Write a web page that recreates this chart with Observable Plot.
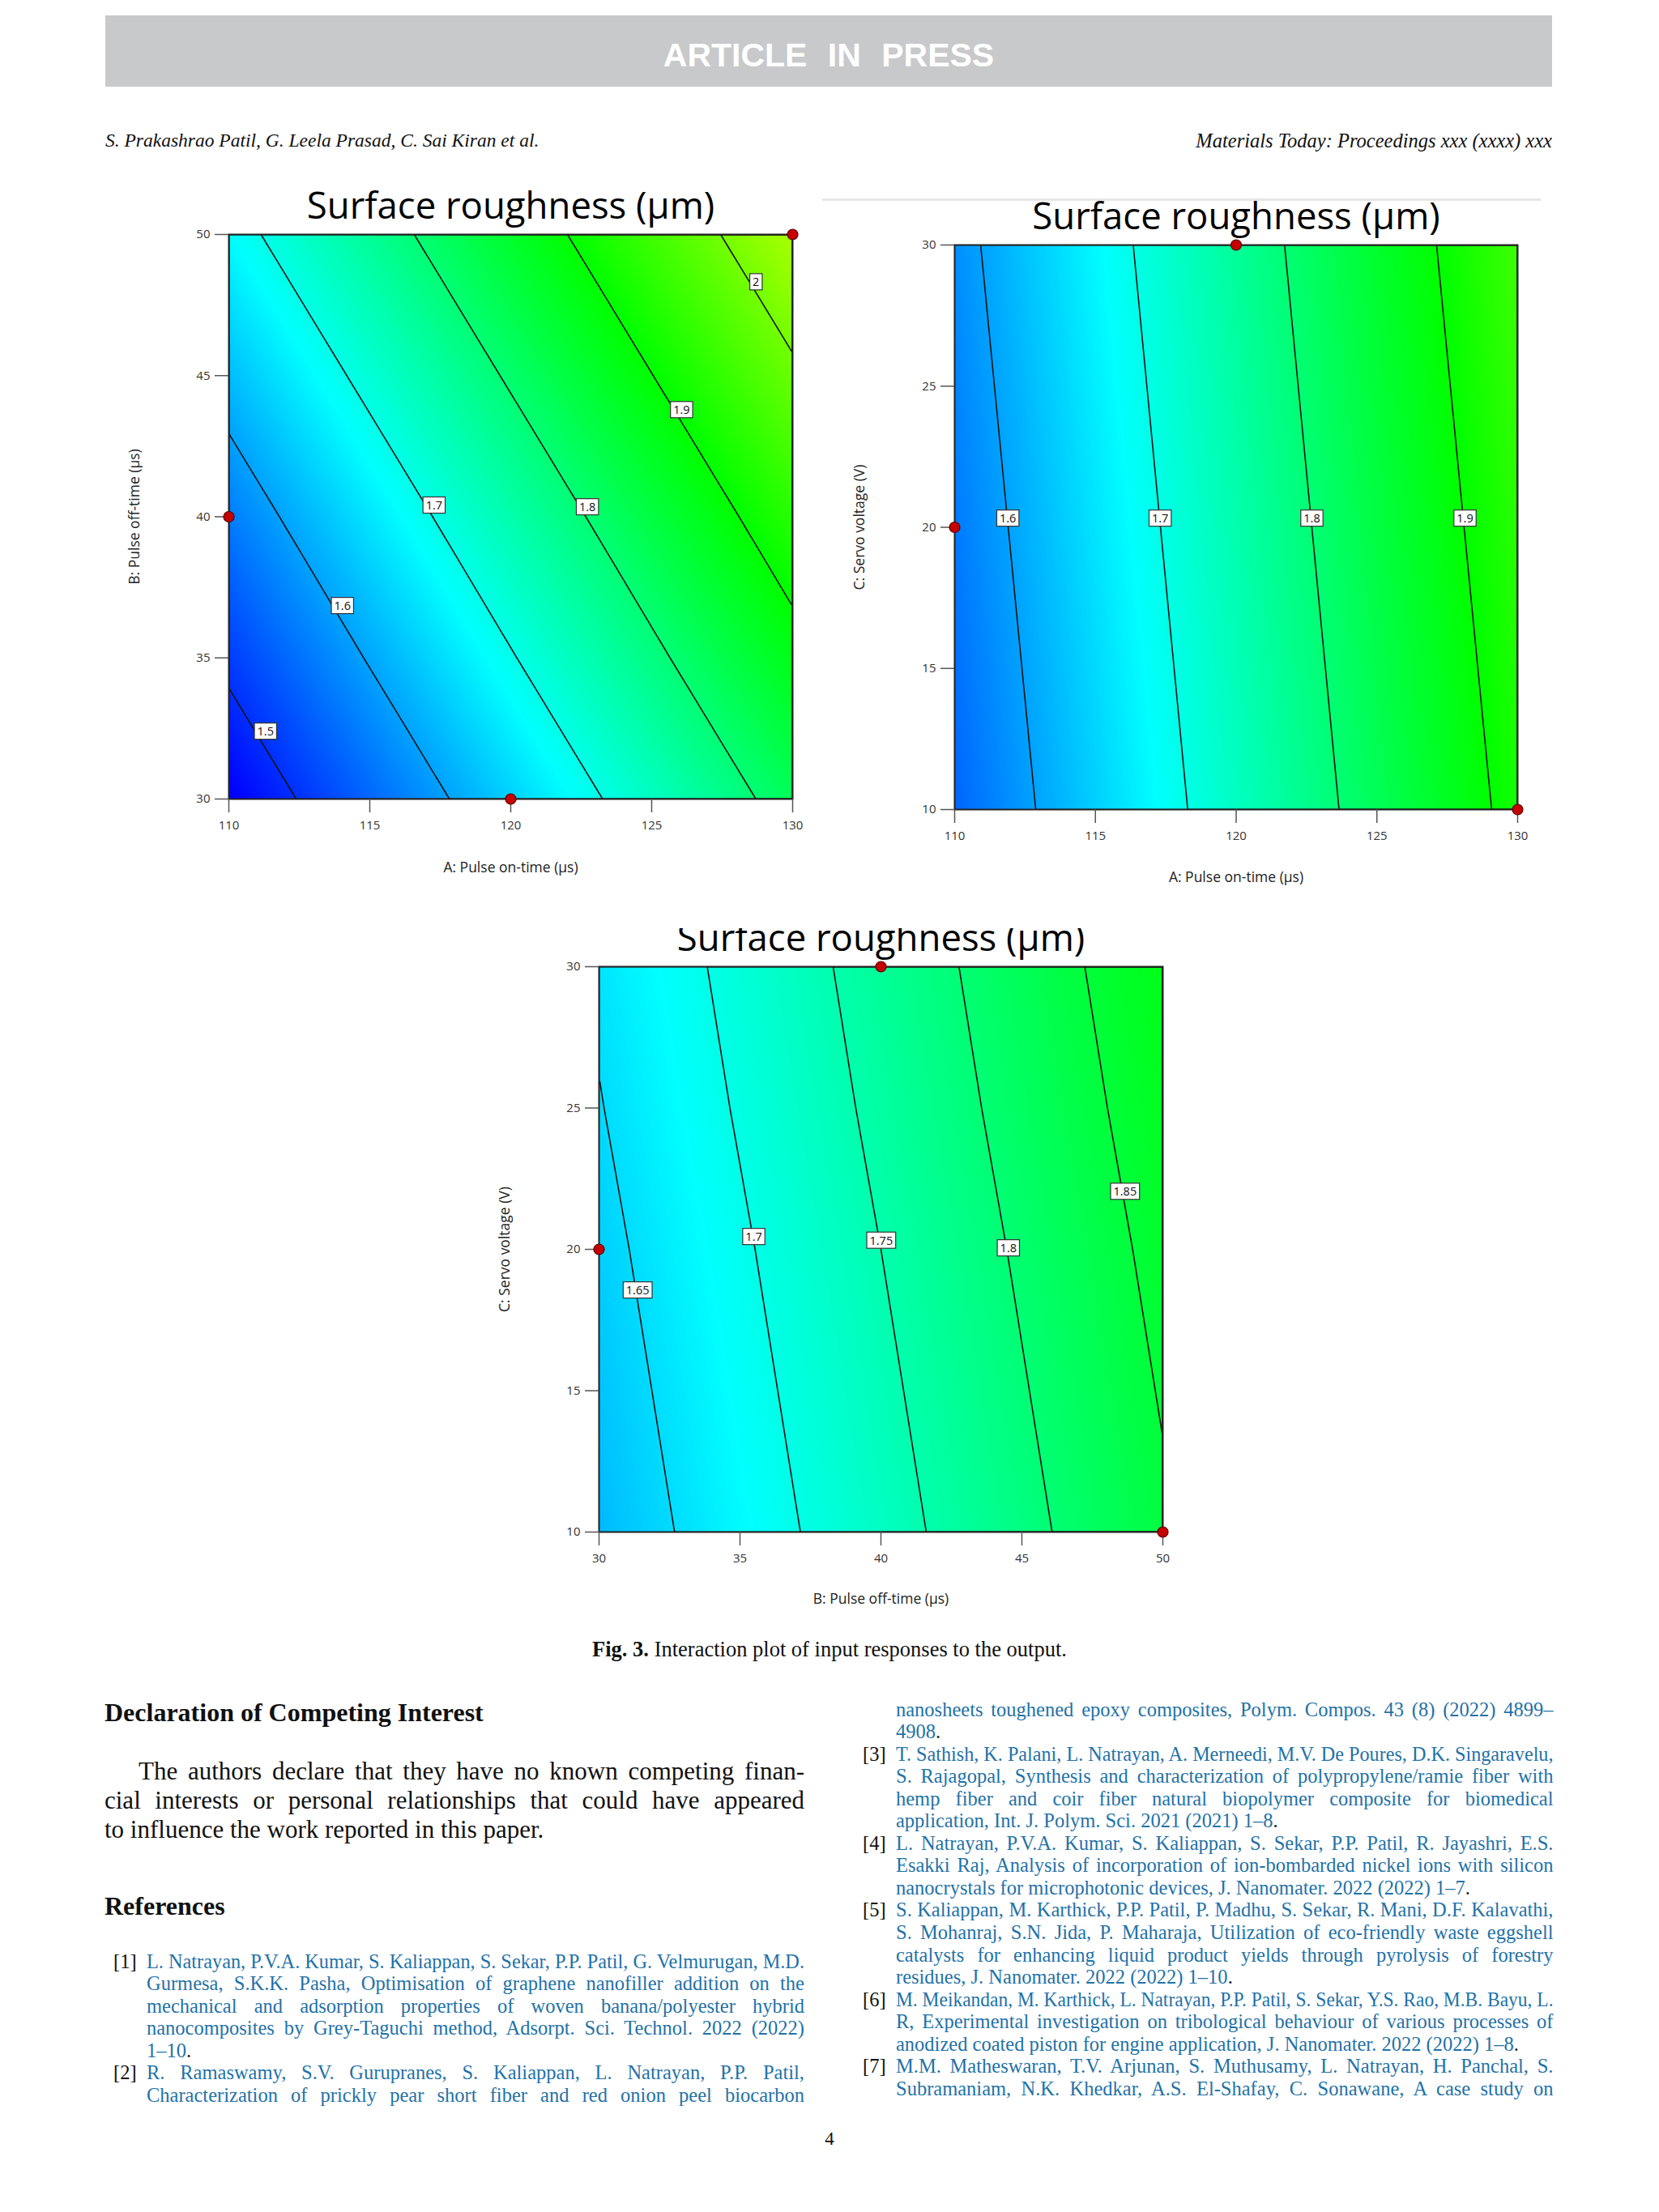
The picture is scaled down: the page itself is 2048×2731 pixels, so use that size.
<!DOCTYPE html>
<html>
<head>
<meta charset="utf-8">
<script src="https://cdn.jsdelivr.net/npm/d3@7"></script>
<script src="https://cdn.jsdelivr.net/npm/@observablehq/plot@0.6"></script>
<style>
  html, body { margin: 0; padding: 0; background: #fff; }
  #page { position: relative; width: 2048px; height: 2731px; overflow: hidden; background: #fff; }
  .abs { position: absolute; }
  .serif { font-family: "Liberation Serif", "DejaVu Serif", serif; color: #111; }
  .line { white-space: nowrap; text-align: justify; text-align-last: justify; }
  .line.last { text-align-last: left; }
  .ref { color: #1f72a8; }
  .blk { color: #111; }
</style>
</head>
<body>
<div id="page">
  <div class="abs" style="left:130px;top:19px;width:1786px;height:88px;background:#c8c9cb;"></div>
  <div class="abs" style="left:130px;top:24px;width:1786px;height:88px;text-align:center;line-height:88px;font-family:'Liberation Sans',Arial,sans-serif;font-weight:bold;font-size:41px;color:#fff;word-spacing:14px;">ARTICLE IN PRESS</div>
  <div class="abs serif" style="left:130px;top:162px;font-size:23.5px;line-height:23.5px;font-style:italic;">S. Prakashrao Patil, G. Leela Prasad, C. Sai Kiran et al.</div>
  <div class="abs serif" style="right:132px;top:162px;font-size:24.5px;line-height:24px;font-style:italic;text-align:right;">Materials Today: Proceedings xxx (xxxx) xxx</div>
  <div class="abs" style="left:1015px;top:245px;width:887px;height:3px;background:#e6e6e6;"></div>
  <div id="p1" class="abs" style="left:130px;top:220px;"></div>
  <div id="p2" class="abs" style="left:1000px;top:230px;"></div>
  <div class="abs" style="left:560px;top:1146px;width:915px;height:865px;overflow:hidden;">
    <div id="p3" class="abs" style="left:0px;top:-46px;"></div>
  </div>
  <div class="abs serif" style="left:0;width:2048px;top:2023px;font-size:26.5px;line-height:26.5px;text-align:center;"><b>Fig. 3.</b> Interaction plot of input responses to the output.</div>
  <div id="left" class="abs serif" style="left:129px;top:0;width:864px;"></div>
  <div id="right" class="abs serif" style="left:1054px;top:0;width:864px;"></div>
  <div class="abs serif" style="left:0;width:2048px;top:2630px;font-size:23px;line-height:22px;text-align:center;">4</div>
</div>
<script>
// ---------------- data ----------------
const aTicks = [110, 115, 120, 125, 130];   // A: Pulse on-time (µs)
const bTicks = [30, 35, 40, 45, 50];        // B: Pulse off-time (µs)
const cTicks = [10, 15, 20, 25, 30];        // C: Servo voltage (V)

// Surface roughness read at grid nodes; rows = y tick, columns = x tick
const roughAB = [ // rows B = 30..50, cols A = 110..130
  [1.456, 1.548, 1.640, 1.732, 1.824],
  [1.512, 1.604, 1.696, 1.788, 1.880],
  [1.567, 1.659, 1.751, 1.843, 1.935],
  [1.623, 1.715, 1.807, 1.899, 1.991],
  [1.679, 1.771, 1.863, 1.955, 2.047]
];
const roughAC = [ // rows C = 10..30, cols A = 110..130
  [1.547, 1.639, 1.732, 1.825, 1.917],
  [1.556, 1.648, 1.741, 1.834, 1.926],
  [1.565, 1.657, 1.750, 1.843, 1.935],
  [1.574, 1.666, 1.759, 1.852, 1.944],
  [1.583, 1.675, 1.768, 1.861, 1.953]
];
const roughBC = [ // rows C = 10..30, cols B = 30..50
  [1.620, 1.676, 1.732, 1.788, 1.844],
  [1.629, 1.685, 1.741, 1.797, 1.853],
  [1.638, 1.694, 1.750, 1.806, 1.862],
  [1.648, 1.704, 1.760, 1.816, 1.872],
  [1.657, 1.713, 1.769, 1.825, 1.881]
];

// contour levels and label positions
const levels1 = [1.5, 1.6, 1.7, 1.8, 1.9, 2.0];
const labText1 = ["1.5", "1.6", "1.7", "1.8", "1.9", "2"];
const labX1 = [111.3, 114.03, 117.28, 122.72, 126.06, 128.7];
const labY1 = [32.38, 36.83, 40.39, 40.33, 43.77, 48.3];

const levels2 = [1.6, 1.7, 1.8, 1.9];
const labText2 = ["1.6", "1.7", "1.8", "1.9"];
const labX2 = [111.89, 117.30, 122.69, 128.13];
const labY2 = [20.3, 20.3, 20.3, 20.3];

const levels3 = [1.65, 1.7, 1.75, 1.8, 1.85];
const labText3 = ["1.65", "1.7", "1.75", "1.8", "1.85"];
const labX3 = [31.37, 35.49, 40.01, 44.52, 48.66];
const labY3 = [18.54, 20.43, 20.3, 20.03, 22.03];

// design points (red dots)
const ptX1 = [110, 120, 130], ptY1 = [40, 30, 50];
const ptX2 = [120, 110, 130], ptY2 = [30, 20, 10];
const ptX3 = [40, 30, 50],    ptY3 = [30, 20, 10];

const title = "Surface roughness (µm)";
const labelA = "A: Pulse on-time (µs)";
const labelB = "B: Pulse off-time (µs)";
const labelC = "C: Servo voltage (V)";

// colour gradient of the response
const colorDomain = [1.46, 1.68, 1.90, 2.12];
const colorRange = ["#0000ff", "#00ffff", "#00ff00", "#ffff00"];

// ---------------- build ----------------
function grid(xs, ys, vals) {
  const out = [];
  ys.forEach((y, i) => xs.forEach((x, j) => out.push({x, y, v: vals[i][j]})));
  return out;
}
function zipPts(xs, ys, t) {
  return xs.map((x, i) => ({x, y: ys[i], t: t ? t[i] : null}));
}

function makePlot(cfg) {
  const pts = grid(cfg.xTicks, cfg.yTicks, cfg.vals);
  return Plot.plot({
    width: cfg.width, height: cfg.height,
    marginLeft: cfg.ml, marginTop: cfg.mt, marginRight: cfg.mr, marginBottom: cfg.mb,
    style: {fontFamily: "'Open Sans', 'Noto Sans', sans-serif", color: "#333", background: "transparent"},
    x: {domain: [cfg.xTicks[0], cfg.xTicks[cfg.xTicks.length - 1]], label: null},
    y: {domain: [cfg.yTicks[0], cfg.yTicks[cfg.yTicks.length - 1]], label: null},
    color: {type: "linear", domain: colorDomain, range: colorRange, clamp: true, interpolate: "rgb"},
    marks: [
      Plot.raster(pts, {x: "x", y: "y", fill: "v", interpolate: "barycentric", pixelSize: 1}),
      Plot.contour(pts, {x: "x", y: "y", value: "v", interpolate: "barycentric", thresholds: cfg.levels,
        stroke: "#111", strokeWidth: 1.6, fill: "none", clip: "frame"}),
      Plot.frame({stroke: "#222", strokeWidth: 2}),
      Plot.axisX({ticks: cfg.xTicks, tickSize: 17, tickPadding: 10, fontSize: 15, stroke: "#555", strokeWidth: 1.5, fill: "#333", label: null}),
      Plot.axisY({ticks: cfg.yTicks, tickSize: 17, tickPadding: 6, fontSize: 15, stroke: "#555", strokeWidth: 1.5, fill: "#333", label: null}),
      Plot.text(zipPts(cfg.labX, cfg.labY, cfg.labText), {x: "x", y: "y", text: "t", fontSize: 14.5, fill: "#111", ariaLabel: () => "contour-label"}),
      Plot.dot(zipPts(cfg.ptX, cfg.ptY), {x: "x", y: "y", r: 6.5, fill: "#c40000", stroke: "#5a0000", strokeWidth: 1.2}),
      Plot.text([title], {frameAnchor: "top", dy: -20, lineAnchor: "bottom", textAnchor: "middle", fontSize: 45.5, fill: "#000"}),
      Plot.text([cfg.xLabel], {frameAnchor: "bottom", dy: cfg.xlOff, lineAnchor: "middle", textAnchor: "middle", fontSize: 17.5, fill: "#222"}),
      Plot.text([cfg.yLabel], {frameAnchor: "left", dx: -cfg.ylOff, rotate: -90, lineAnchor: "middle", textAnchor: "middle", fontSize: 17.5, fill: "#222"})
    ]
  });
}

function boxLabels(svg, labels) {
  svg.querySelectorAll("text").forEach(t => {
    const isLab = t.getAttribute("aria-label") === "contour-label" ||
      (t.parentNode && t.parentNode.getAttribute && t.parentNode.getAttribute("aria-label") === "contour-label");
    if (!isLab) return;
    const bb = t.getBBox();
    const r = document.createElementNS("http://www.w3.org/2000/svg", "rect");
    r.setAttribute("x", bb.x - 3.5);
    r.setAttribute("y", bb.y - 0.5);
    r.setAttribute("width", bb.width + 7);
    r.setAttribute("height", bb.height + 1);
    r.setAttribute("fill", "#fff");
    r.setAttribute("stroke", "#333");
    r.setAttribute("stroke-width", "1.2");
    if (t.getAttribute("transform")) r.setAttribute("transform", t.getAttribute("transform"));
    t.parentNode.insertBefore(r, t);
  });
}

const configs = [
  {id: "p1", width: 880, height: 880, ml: 152, mt: 69, mr: 32, mb: 114,
   xTicks: aTicks, yTicks: bTicks, vals: roughAB, levels: levels1,
   labX: labX1, labY: labY1, labText: labText1, ptX: ptX1, ptY: ptY1,
   xLabel: labelA, yLabel: labelB, xlOff: 85, ylOff: 116},
  {id: "p2", width: 913, height: 889, ml: 178, mt: 72, mr: 40, mb: 120,
   xTicks: aTicks, yTicks: cTicks, vals: roughAC, levels: levels2,
   labX: labX2, labY: labY2, labText: labText2, ptX: ptX2, ptY: ptY2,
   xLabel: labelA, yLabel: labelC, xlOff: 84, ylOff: 117},
  {id: "p3", width: 915, height: 911, ml: 179, mt: 93, mr: 40, mb: 120,
   xTicks: bTicks, yTicks: cTicks, vals: roughBC, levels: levels3,
   labX: labX3, labY: labY3, labText: labText3, ptX: ptX3, ptY: ptY3,
   xLabel: labelB, yLabel: labelC, xlOff: 83, ylOff: 116}
];
configs.forEach(cfg => {
  const svg = makePlot(cfg);
  document.getElementById(cfg.id).appendChild(svg);
  boxLabels(svg);
});

// ---------------- text columns ----------------
const REF_FS = 24.5, REF_L = 27.55;
function addBlock(parent, top, html) {
  const d = document.createElement("div");
  d.className = "abs";
  d.style.left = "0"; d.style.top = top + "px"; d.style.width = "100%";
  d.innerHTML = html;
  parent.appendChild(d);
  return d;
}
function refBlock(parent, top, refs) {
  let y = top;
  const w = parent.id === "left" ? 812 : 811.5;
  refs.forEach(ref => {
    if (ref.label) {
      addBlock(parent, y, `<div class="abs blk" style="left:11px;font-size:${REF_FS}px;line-height:${REF_L}px;">${ref.label}</div>`);
    }
    ref.lines.forEach((ln, i) => {
      const last = i === ref.lines.length - 1 && ref.end;
      const txt = last ? ln.replace(/\.$/, '<span class="blk">.</span>') : ln;
      addBlock(parent, y, `<div class="abs line ref${last ? ' last' : ''}" data-w="${w}" style="left:52px;width:${w}px;font-size:${REF_FS}px;line-height:${REF_L}px;">${txt}</div>`);
      y += REF_L;
    });
  });
}

const left = document.getElementById("left");
const right = document.getElementById("right");
addBlock(left, 2099, `<div style="font-size:32px;line-height:30px;font-weight:bold;">Declaration of Competing Interest</div>`);
const para = [
  "The authors declare that they have no known competing finan-",
  "cial interests or personal relationships that could have appeared",
  "to influence the work reported in this paper."
];
para.forEach((ln, i) => {
  const w = i === 0 ? 822 : 864;
  addBlock(left, 2169 + i * 36.2, `<div class="abs line${i === 2 ? ' last' : ''}" data-w="${w}" style="left:${i === 0 ? 42 : 0}px;width:${w}px;font-size:31px;line-height:36px;">${ln}</div>`);
});
addBlock(left, 2338, `<div style="font-size:32px;line-height:30px;font-weight:bold;">References</div>`);

refBlock(left, 2407.5, [
  {label: "[1]", end: true, lines: [
    "L. Natrayan, P.V.A. Kumar, S. Kaliappan, S. Sekar, P.P. Patil, G. Velmurugan, M.D.",
    "Gurmesa, S.K.K. Pasha, Optimisation of graphene nanofiller addition on the",
    "mechanical and adsorption properties of woven banana/polyester hybrid",
    "nanocomposites by Grey-Taguchi method, Adsorpt. Sci. Technol. 2022 (2022)",
    "1–10."]},
  {label: "[2]", end: false, lines: [
    "R. Ramaswamy, S.V. Gurupranes, S. Kaliappan, L. Natrayan, P.P. Patil,",
    "Characterization of prickly pear short fiber and red onion peel biocarbon"]}
]);
refBlock(right, 2096.5, [
  {label: "", end: true, lines: [
    "nanosheets toughened epoxy composites, Polym. Compos. 43 (8) (2022) 4899–",
    "4908."]},
  {label: "[3]", end: true, lines: [
    "T. Sathish, K. Palani, L. Natrayan, A. Merneedi, M.V. De Poures, D.K. Singaravelu,",
    "S. Rajagopal, Synthesis and characterization of polypropylene/ramie fiber with",
    "hemp fiber and coir fiber natural biopolymer composite for biomedical",
    "application, Int. J. Polym. Sci. 2021 (2021) 1–8."]},
  {label: "[4]", end: true, lines: [
    "L. Natrayan, P.V.A. Kumar, S. Kaliappan, S. Sekar, P.P. Patil, R. Jayashri, E.S.",
    "Esakki Raj, Analysis of incorporation of ion-bombarded nickel ions with silicon",
    "nanocrystals for microphotonic devices, J. Nanomater. 2022 (2022) 1–7."]},
  {label: "[5]", end: true, lines: [
    "S. Kaliappan, M. Karthick, P.P. Patil, P. Madhu, S. Sekar, R. Mani, D.F. Kalavathi,",
    "S. Mohanraj, S.N. Jida, P. Maharaja, Utilization of eco-friendly waste eggshell",
    "catalysts for enhancing liquid product yields through pyrolysis of forestry",
    "residues, J. Nanomater. 2022 (2022) 1–10."]},
  {label: "[6]", end: true, lines: [
    "M. Meikandan, M. Karthick, L. Natrayan, P.P. Patil, S. Sekar, Y.S. Rao, M.B. Bayu, L.",
    "R, Experimental investigation on tribological behaviour of various processes of",
    "anodized coated piston for engine application, J. Nanomater. 2022 (2022) 1–8."]},
  {label: "[7]", end: false, lines: [
    "M.M. Matheswaran, T.V. Arjunan, S. Muthusamy, L. Natrayan, H. Panchal, S.",
    "Subramaniam, N.K. Khedkar, A.S. El-Shafay, C. Sonawane, A case study on"]}
]);

// fit over-long lines by a slight horizontal squeeze
document.querySelectorAll(".line").forEach(el => {
  const target = +el.dataset.w;
  const s = document.createElement("span");
  s.style.whiteSpace = "nowrap";
  s.innerHTML = el.innerHTML;
  s.style.visibility = "hidden";
  s.style.position = "absolute";
  el.appendChild(s);
  const nat = s.getBoundingClientRect().width;
  el.removeChild(s);
  if (nat > target) {
    el.style.width = nat + "px";
    el.style.textAlignLast = "left";
    el.style.transformOrigin = "0 0";
    el.style.transform = `scaleX(${target / nat})`;
  }
});
</script>
</body>
</html>
